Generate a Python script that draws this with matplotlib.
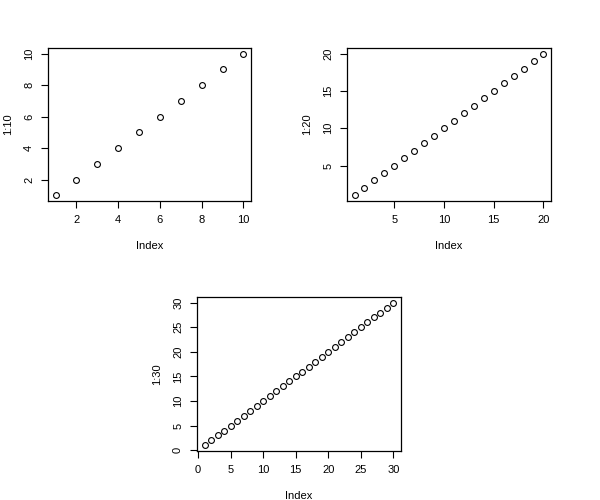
import numpy as np
import matplotlib
matplotlib.use("Agg")
import matplotlib.pyplot as plt

plt.rcParams['font.family'] = ['Liberation Sans', 'DejaVu Sans']

# --- data: three index plots of 1:10, 1:20, 1:30 ---
y_10 = [1, 2, 3, 4, 5, 6, 7, 8, 9, 10]
y_20 = [1, 2, 3, 4, 5, 6, 7, 8, 9, 10, 11, 12, 13, 14, 15, 16, 17, 18, 19, 20]
y_30 = [1, 2, 3, 4, 5, 6, 7, 8, 9, 10, 11, 12, 13, 14, 15,
        16, 17, 18, 19, 20, 21, 22, 23, 24, 25, 26, 27, 28, 29, 30]

ylabels = ['1:10', '1:20', '1:30']
xticks_list = [[2, 4, 6, 8, 10], [5, 10, 15, 20], [0, 5, 10, 15, 20, 25, 30]]
yticks_list = [[2, 4, 6, 8, 10], [5, 10, 15, 20], [0, 5, 10, 15, 20, 25, 30]]

W, H = 600, 500
# axes boxes in pixels: (left, top, right, bottom)
boxes = [(48, 48, 251, 201), (347, 48, 551, 201), (197, 297, 401, 451)]

fig = plt.figure(figsize=(6, 5), dpi=100)

for yvals, ylab, xt, yt, (l, t, r, b) in zip([y_10, y_20, y_30], ylabels,
                                             xticks_list, yticks_list, boxes):
    ax = fig.add_axes([l / W, 1 - b / H, (r - l) / W, (b - t) / H])
    idx = np.arange(1, len(yvals) + 1)
    ax.plot(idx, yvals, 'o', mfc='none', mec='black', ms=4.2, mew=0.8)

    # R style 4% range extension
    def lims(lo, hi):
        d = (hi - lo) * 0.04
        return lo - d, hi + d
    ax.set_xlim(*lims(idx.min(), idx.max()))
    ax.set_ylim(*lims(min(yvals), max(yvals)))

    ax.set_xticks(xt)
    ax.set_yticks(yt)
    ax.set_yticklabels([str(v) for v in yt], rotation=90, va='center')
    ax.tick_params(direction='out', length=5, width=0.8, labelsize=8,
                   pad=5, colors='black')
    for s in ax.spines.values():
        s.set_linewidth(0.9)

    ax.set_xlabel('Index', fontsize=8, va='center')
    ax.set_ylabel(ylab, fontsize=8, va='center')
    ax.xaxis.set_label_coords(0.5, -45 / (b - t))
    ax.yaxis.set_label_coords(-40 / (r - l), 0.5)

fig.savefig('out.png', dpi=100)
